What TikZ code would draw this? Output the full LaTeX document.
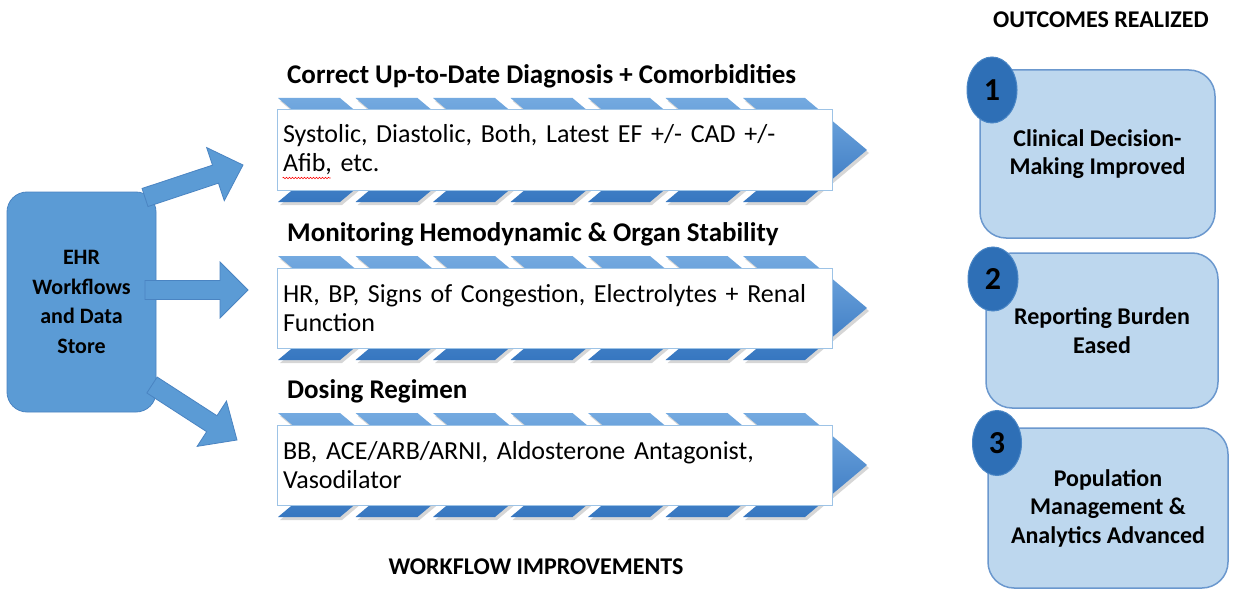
\documentclass[tikz,border=0pt]{standalone}
\usepackage{fontspec}
\setmainfont{Carlito}
\usetikzlibrary{calc,shapes.geometric,decorations.pathmorphing}
\definecolor{ehrblue}{HTML}{5B9BD5}
\definecolor{ehredge}{HTML}{4A84C2}
\definecolor{chevtop}{HTML}{74AAE0}
\definecolor{chevbot}{HTML}{3676C0}
\definecolor{boxedge}{HTML}{9DC3E6}
\definecolor{outfill}{HTML}{BDD7EE}
\definecolor{outedge}{HTML}{6B98CE}
\definecolor{numfill}{HTML}{2E6FB6}
\definecolor{numedge}{HTML}{4A86C5}
\tikzset{
  chev/.style={top color=chevtop, bottom color=chevbot, draw=none},
  chevshadow/.style={fill=black, opacity=0.16},
  whitebox/.style={draw=boxedge, line width=1pt, fill=white, minimum width=555pt,
    minimum height=80pt, text width=543pt, align=left, inner sep=6pt,
    font=\fontsize{26}{29}\selectfont},
  rowtitle/.style={anchor=west, inner sep=0pt, font=\fontsize{27}{30}\selectfont\bfseries},
  caption/.style={inner sep=0pt, font=\fontsize{24}{29}\selectfont\bfseries},
  ehrbox/.style={rounded corners=20pt, fill=ehrblue, draw=ehredge, line width=0.8pt,
    minimum width=149pt, minimum height=220pt, align=center, inner sep=0pt,
    font=\fontsize{22}{29.5}\selectfont\bfseries},
  blockarrow/.style={fill=ehrblue, draw=ehredge, line width=0.8pt, line join=miter},
  outbox/.style={rounded corners=26pt, fill=outfill, draw=outedge, line width=1.5pt,
    align=center, inner sep=0pt, font=\fontsize{24}{28.5}\selectfont\bfseries},
  numell/.style={ellipse, fill=numfill, draw=numedge, line width=1pt, inner sep=0pt,
    font=\fontsize{32}{36}\selectfont\bfseries},
  spell/.style={draw=red, line width=0.6pt, decorate,
    decoration={snake, amplitude=0.7pt, segment length=3pt}}
}
\newcommand\chevrow[1]{%
  \foreach \i in {0,...,6}{%
    \pgfmathsetmacro\xa{278+77.5*\i}%
    \path[chevshadow] (\xa+2,#1-52+3) -- ++(62,0) -- ++(62,52) -- ++(-62,52)
      -- ++(-62,0) -- ++(62,-52) -- cycle;
  }%
  \foreach \i in {0,...,6}{%
    \pgfmathsetmacro\xa{278+77.5*\i}%
    \path[chev] (\xa,#1-52) -- ++(62,0) -- ++(62,52) -- ++(-62,52)
      -- ++(-62,0) -- ++(62,-52) -- cycle;
  }%
}
\newcommand\blockarr[5]{%
  \coordinate (bah) at ($(#2)!#5pt!(#1)$);
  \filldraw[blockarrow] ($(#1)!#3pt!90:(#2)$) -- ($(bah)!#3pt!90:(#2)$)
    -- ($(bah)!#4pt!90:(#2)$) -- (#2) -- ($(bah)!#4pt!-90:(#2)$)
    -- ($(bah)!#3pt!-90:(#2)$) -- ($(#1)!#3pt!-90:(#2)$) -- cycle;
}
\begin{document}
\begin{tikzpicture}[x=1pt,y=-1pt]
\useasboundingbox (0,0) rectangle (1240,607);
\fill[white] (0,0) rectangle (1240,607);

% chevron bands
\chevrow{150}
\chevrow{308}
\chevrow{465}

% white text boxes
\node[whitebox] (b1) at (554.5,150) {Systolic, Diastolic, Both, Latest EF +/- CAD +/-\\Afib, etc.};
\node[whitebox] (b2) at (554.5,308) {HR, BP, Signs of Congestion, Electrolytes + Renal\\Function};
\node[whitebox] (b3) at (554.5,465) {BB, ACE/ARB/ARNI, Aldosterone Antagonist,\\Vasodilator};
\draw[spell] ($(b1.west)+(6,28)$) -- ($(b1.west)+(54,28)$);

% row titles
\node[rowtitle] (t1) at (287,76) {Correct Up-to-Date Diagnosis + Comorbidities};
\node[rowtitle] (t2) at (287,234) {Monitoring Hemodynamic \& Organ Stability};
\node[rowtitle] (t3) at (287,391) {Dosing Regimen};

% captions
\node[caption] (cap1) at (536,567) {WORKFLOW IMPROVEMENTS};
\node[caption] (cap2) at (1101,20) {OUTCOMES REALIZED};

% EHR box
\node[ehrbox] (ehr) at (81.5,302) {EHR\\Workflows\\and Data\\Store};

% block arrows
\coordinate (a1s) at (145,197.5);
\coordinate (a1e) at (243,165);
\coordinate (a2s) at (145,290);
\coordinate (a2e) at (248,290);
\coordinate (a3s) at (152,385);
\coordinate (a3e) at (237,440);
\blockarr{a1s}{a1e}{9.5}{28}{29}
\blockarr{a2s}{a2e}{9.5}{28}{28}
\blockarr{a3s}{a3e}{9.5}{27}{30}

% outcome boxes
\node[outbox, minimum width=235pt, minimum height=168pt] (o1) at (1097.5,154) {Clinical Decision-\\Making Improved};
\node[outbox, minimum width=232pt, minimum height=155pt] (o2) at (1102,330.5) {Reporting Burden\\Eased};
\node[outbox, minimum width=240pt, minimum height=160pt] (o3) at (1108,508) {Population\\Management \&\\Analytics Advanced};

\node[numell, minimum width=50pt, minimum height=66pt] (n1) at (992,90) {1};
\node[numell, minimum width=50pt, minimum height=64pt] (n2) at (993,279) {2};
\node[numell, minimum width=49pt, minimum height=65pt] (n3) at (997,443) {3};
\end{tikzpicture}
\end{document}
